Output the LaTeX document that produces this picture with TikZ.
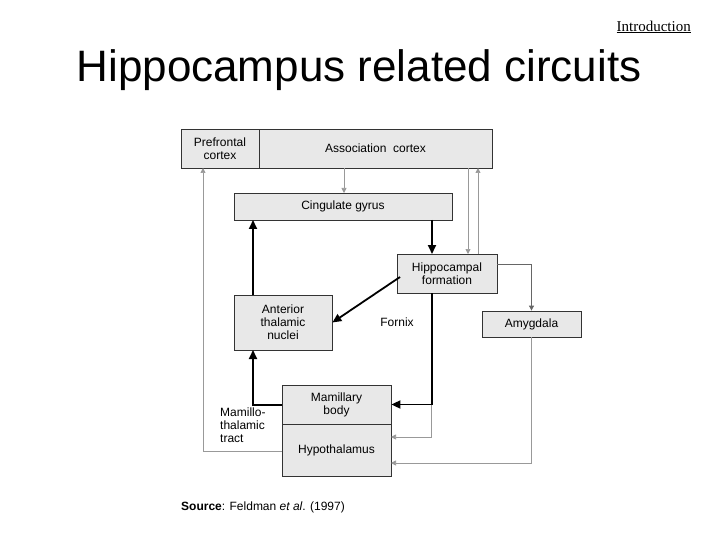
\documentclass[tikz,border=0pt]{standalone}
\usepackage{fontspec}
\setmainfont{Liberation Sans}
\newfontfamily\timesf{Liberation Serif}
\usetikzlibrary{arrows.meta}
\begin{document}
\begin{tikzpicture}[x=1pt,y=-1pt,
 box/.style={draw=black!80,fill=black!9,line width=0.8pt,inner sep=0pt,align=center,font=\fontsize{12}{13}\selectfont},
 thick/.style={line width=1.8pt,-{Triangle[length=9pt,width=8pt]}},
 thin/.style={draw=black!40,line width=0.7pt,-{Triangle[length=5pt,width=5pt]}},
 thinb/.style={draw=black!60,line width=0.9pt,-{Triangle[length=5pt,width=5pt]}},
 lbl/.style={font=\fontsize{12}{13}\selectfont,align=left,inner sep=0pt}]
\useasboundingbox (0,0) rectangle (720,540);
\node[anchor=east,inner sep=0pt,font=\timesf\fontsize{15}{17}\selectfont] (intro) at (691,27) {\underline{Introduction}};
\node[font=\fontsize{44}{50}\selectfont,inner sep=0pt] (title) at (359,70) {Hippocampus related circuits};
\node[box,minimum width=78pt,minimum height=39pt] (pf) at (220,148.5) {Prefrontal\\cortex};
\node[box,minimum width=233pt,minimum height=39pt] (ac) at (375.5,148.5) {Association\ \ cortex};
\node[box,minimum width=218pt,minimum height=27pt] (cg) at (343,206.5) {Cingulate gyrus};
\node[box,minimum width=100pt,minimum height=39pt] (hf) at (447,273.5) {Hippocampal\\formation};
\node[box,minimum width=98pt,minimum height=55pt] (at) at (283,322.5) {Anterior\\thalamic\\nuclei};
\node[box,minimum width=99pt,minimum height=26pt] (am) at (531.5,324) {Amygdala};
\node[box,minimum width=109pt,minimum height=39pt] (mb) at (336.5,404.5) {Mamillary\\body};
\node[box,minimum width=109pt,minimum height=52pt] (hy) at (336.5,450) {Hypothalamus};
\node[lbl] (fx) at (397,322) {Fornix};
\node[lbl,anchor=west] (mt) at (220,425) {Mamillo-\\thalamic\\tract};
\node[anchor=west,inner sep=0pt,font=\fontsize{12}{13}\selectfont] (src) at (181,507) {\textbf{Source}: Feldman \textit{et al}. (1997)};
\coordinate (a1) at (344,168.5);
\draw[thin] (a1) -- (344,193);
\draw[thick] (432,220) -- (432,254);
\draw[thin] (468,168) -- (468,254);
\draw[thin] (478,254) -- (478,168);
\draw[thinb] (hf.east |- 0,264) -| (am.north);
\draw[thick] (400,277) -- (at.east);
\draw[thick] (432,293) |- (mb.east);
\draw[thin] (431,405) |- (391,437);
\draw[thin] (am.south) |- (391,463);
\draw[thick] (282,405) -| (253,350);
\draw[thick] (253,295) -- (253,220);
\draw[thin] (282,451) -| (203,168);
\end{tikzpicture}
\end{document}
